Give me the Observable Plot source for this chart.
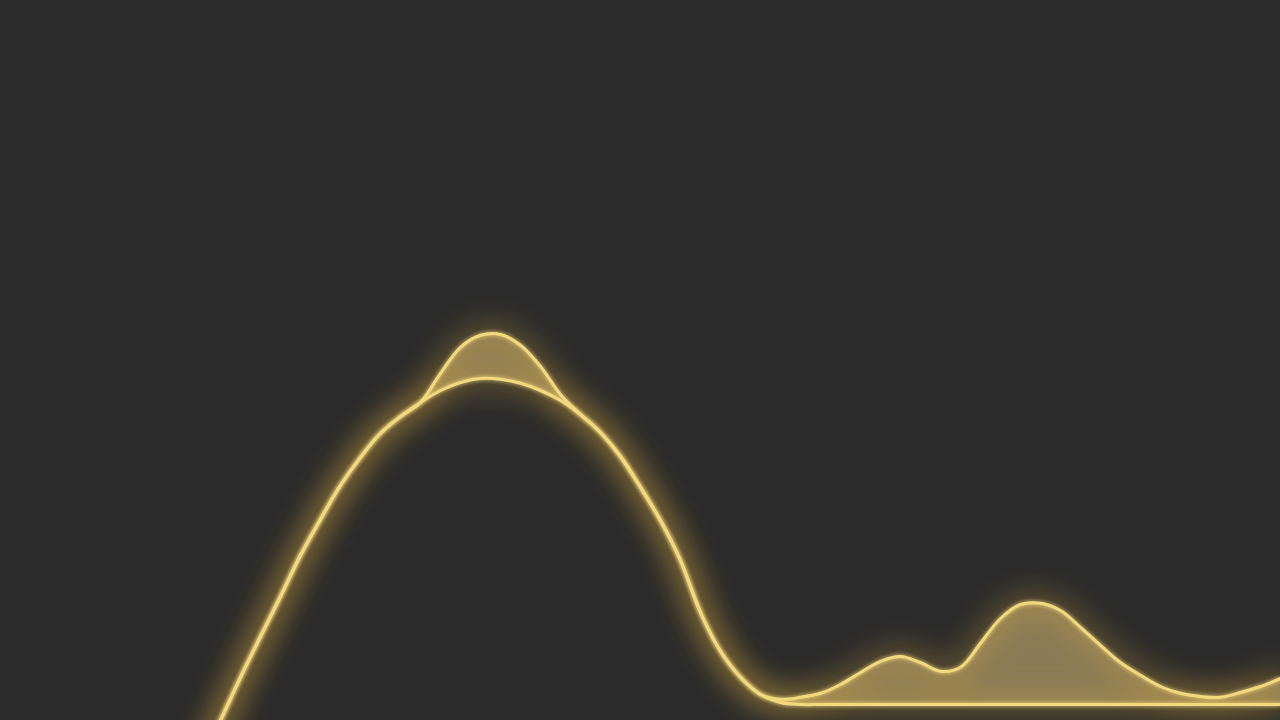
<!DOCTYPE html>
<html>
<head>
<meta charset="utf-8">
<script src="https://cdn.jsdelivr.net/npm/d3@7"></script>
<script src="https://cdn.jsdelivr.net/npm/@observablehq/plot@0.6"></script>
<style>
  html, body { margin: 0; padding: 0; background: #2b2b2b; overflow: hidden; }
  #chart svg { display: block; }
</style>
</head>
<body>
<div id="chart"></div>
<script>
// positions along the horizontal axis (arbitrary units)
const positions = [10,11,12,13,14,15,16,17,18,19,20,21,22,23,24,25,26,27,28,29,30,31,32,33,34,35,36,37,38,39,40,41,42,43,44,45,46,47,48,49,50,51,52,53,54,55,56,57,58,59,60,61,62,63,64];
// lower (main bell) series
const baseSeries = [-15,-4,6.8,17,27,37.3,46.3,54.8,61.8,67.8,72,75.5,78.5,80.5,81.5,81.3,80.3,78.5,76,72.5,68,62,54.3,46,36,23,13.3,6.8,2.5,0.5,0,0,0,0,0,0,0,0,0,0,0,0,0,0,0,0,0,0,0,0,0,0,0,0,0];
// upper (total) series
const topSeries = [-15,-4,6.8,17,27,37.3,46.3,54.8,61.8,67.8,72,75.5,82.8,89.3,92.3,92.5,89.8,84.5,77.5,72.5,68,62,54.3,46,36,23,13.3,6.8,2.5,1.3,1.8,2.8,5,8,10.8,12,10.5,8.3,9.3,15.3,21.5,25,25.3,23.5,19.3,14.8,10.5,7.3,4.5,2.8,2,1.8,3,4.5,6.5];

const data = positions.map((x, i) => ({x, base: baseSeries[i], top: topSeries[i]}));

const gold = "#f3d97e";
const haloColor = "#d9a93a";
const curve = "catmull-rom";

const chart = Plot.plot({
  width: 1280,
  height: 720,
  margin: 0,
  x: {domain: [0, 64], axis: null},
  y: {domain: [-4, 176], axis: null},
  style: {background: "#2b2b2b"},
  marks: [
    Plot.areaY(data, {x: "x", y1: "base", y2: "top", curve, fill: "#d8bd7a", fillOpacity: 0.55}),
    Plot.lineY(data, {x: "x", y: "top", curve, stroke: haloColor, strokeWidth: 18, strokeOpacity: 0.38}),
    Plot.lineY(data, {x: "x", y: "base", curve, stroke: haloColor, strokeWidth: 18, strokeOpacity: 0.38}),
    Plot.lineY(data, {x: "x", y: "top", curve, stroke: gold, strokeWidth: 3}),
    Plot.lineY(data, {x: "x", y: "base", curve, stroke: gold, strokeWidth: 3})
  ]
});

document.getElementById("chart").appendChild(chart);

const svg = d3.select(chart);
const defs = svg.insert("defs", ":first-child");
const halo = defs.append("filter").attr("id", "haloBlur")
  .attr("filterUnits", "userSpaceOnUse").attr("x", -200).attr("y", -200).attr("width", 1680).attr("height", 1120);
halo.append("feGaussianBlur").attr("stdDeviation", 14);
const glow = defs.append("filter").attr("id", "lineGlow")
  .attr("filterUnits", "userSpaceOnUse").attr("x", -200).attr("y", -200).attr("width", 1680).attr("height", 1120);
glow.append("feGaussianBlur").attr("in", "SourceGraphic").attr("stdDeviation", 2).attr("result", "b");
const merge = glow.append("feMerge");
merge.append("feMergeNode").attr("in", "b");
merge.append("feMergeNode").attr("in", "SourceGraphic");

svg.selectAll('g[stroke-width="18"]').attr("filter", "url(#haloBlur)");
svg.selectAll('g[stroke-width="3"]').attr("filter", "url(#lineGlow)");
</script>
</body>
</html>
